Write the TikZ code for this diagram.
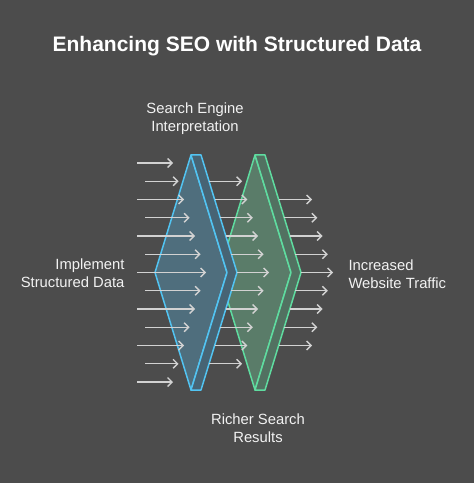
\documentclass[tikz,border=0pt]{standalone}
\usepackage{fontspec}
\setmainfont{Liberation Sans}
\usetikzlibrary{arrows.meta}
\definecolor{bgcol}{HTML}{4C4C4C}
\definecolor{bluline}{HTML}{52C4F2}
\definecolor{blufill}{HTML}{4F6E7D}
\definecolor{bluside}{HTML}{476474}
\definecolor{grnline}{HTML}{5FDCA0}
\definecolor{grnfill}{HTML}{5A7C69}
\definecolor{grnside}{HTML}{527161}
\definecolor{arrowcol}{HTML}{D2D2D2}
\definecolor{textcol}{HTML}{F2F2F2}
\begin{document}
\begin{tikzpicture}[x=1bp,y=-1bp,
    >={Straight Barb[length=4.5bp,width=9bp,line width=1.4bp]},
    flow/.style={->,draw=arrowcol,line width=1.4bp},
    plate/.style={line width=1.5bp,line join=round},
    label/.style={text=textcol,font=\fontsize{14.8bp}{18bp}\selectfont}]
  \fill[bgcol] (0,0) rectangle (474,483);
  \useasboundingbox (0,0) rectangle (474,483);
  \node[text=white,font=\fontsize{21bp}{24bp}\selectfont\bfseries] (title) at (237,46)
    {Enhancing SEO with Structured Data};
  % plates
  \draw
    (255,155) coordinate (g0)
    (291,272.5) coordinate (g1)
    (255,390) coordinate (g2)
    (219,272.5) coordinate (g3)
    (265,155) coordinate (g4)
    (301,272.5) coordinate (g5)
    (265,390) coordinate (g6);
  \draw
    (191,155) coordinate (b0)
    (227,272.5) coordinate (b1)
    (191,390) coordinate (b2)
    (155,272.5) coordinate (b3)
    (201,155) coordinate (b4)
    (237,272.5) coordinate (b5)
    (201,390) coordinate (b6);
  \filldraw[plate,fill=grnfill,draw=grnline] (g0) -- (g1) -- (g2) -- (g3) -- cycle;
  \filldraw[plate,fill=grnside,draw=grnline] (g0) -- (g4) -- (g5) -- (g6) -- (g2) -- (g1) -- cycle;
  \filldraw[plate,fill=blufill,draw=bluline] (b0) -- (b1) -- (b2) -- (b3) -- cycle;
  \filldraw[plate,fill=bluside,draw=bluline] (b0) -- (b4) -- (b5) -- (b6) -- (b2) -- (b1) -- cycle;
  % arrows
  \begin{scope}[flow]
    \draw (137,163) to (173,163);
    \draw (145,181.25) to (178.5,181.25);
    \draw (137,199.5) to (184,199.5);
    \draw (145,217.75) to (189.5,217.75);
    \draw (137,236) to (195,236);
    \draw (145,254.25) to (200.5,254.25);
    \draw (137,272.5) to (206,272.5);
    \draw (145,290.75) to (200.5,290.75);
    \draw (137,309) to (195,309);
    \draw (145,327.25) to (189.5,327.25);
    \draw (137,345.5) to (184,345.5);
    \draw (145,363.75) to (178.5,363.75);
    \draw (137,382) to (173,382);
    \draw (209,181.25) to (242,181.25);
    \draw (214.6,199.5) to (247.4,199.5);
    \draw (220.2,217.75) to (252.8,217.75);
    \draw (225.8,236) to (258.2,236);
    \draw (231.4,254.25) to (263.6,254.25);
    \draw (237,272.5) to (269,272.5);
    \draw (231.4,290.75) to (263.6,290.75);
    \draw (225.8,309) to (258.2,309);
    \draw (220.2,327.25) to (252.8,327.25);
    \draw (214.6,345.5) to (247.4,345.5);
    \draw (209,363.75) to (242,363.75);
    \draw (278.6,199.5) to (312,199.5);
    \draw (284.2,217.75) to (317.3,217.75);
    \draw (289.8,236) to (322.5,236);
    \draw (295.4,254.25) to (327.8,254.25);
    \draw (301,272.5) to (333,272.5);
    \draw (295.4,290.75) to (327.8,290.75);
    \draw (289.8,309) to (322.5,309);
    \draw (284.2,327.25) to (317.3,327.25);
    \draw (278.6,345.5) to (312,345.5);
  \end{scope}
  % labels
  \node[label,align=center] (engine) at (195,119) {Search Engine\\Interpretation};
  \node[label,align=right,anchor=east] (implement) at (128,273.5) {Implement\\Structured Data};
  \node[label,align=left,anchor=west] (traffic) at (345,274) {Increased\\Website Traffic};
  \node[label,align=center] (richer) at (258,428) {Richer Search\\Results};
\end{tikzpicture}
\end{document}
